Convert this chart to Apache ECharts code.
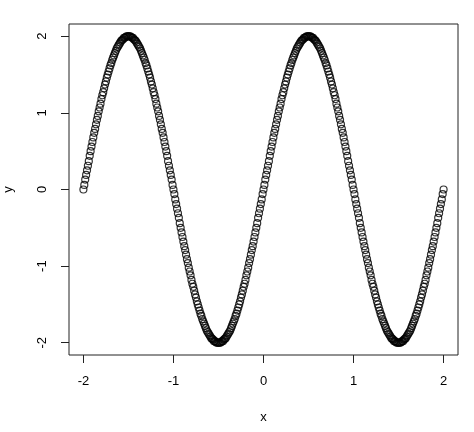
<!DOCTYPE html>
<html>
<head>
<meta charset="utf-8">
<script src="https://cdn.jsdelivr.net/npm/echarts@6/dist/echarts.min.js"></script>
<style>html,body{margin:0;padding:0;background:#fff;}#c{width:474px;height:432px;}</style>
</head>
<body>
<div id="c"></div>
<script>
var xTicks = [-2, -1, 0, 1, 2];
var yTicks = [-2, -1, 0, 1, 2];

var xValues = [
-2,-1.99,-1.98,-1.97,-1.96,-1.95,-1.94,-1.93,-1.92,-1.91,
-1.9,-1.89,-1.88,-1.87,-1.86,-1.85,-1.84,-1.83,-1.82,-1.81,
-1.8,-1.79,-1.78,-1.77,-1.76,-1.75,-1.74,-1.73,-1.72,-1.71,
-1.7,-1.69,-1.68,-1.67,-1.66,-1.65,-1.64,-1.63,-1.62,-1.61,
-1.6,-1.59,-1.58,-1.57,-1.56,-1.55,-1.54,-1.53,-1.52,-1.51,
-1.5,-1.49,-1.48,-1.47,-1.46,-1.45,-1.44,-1.43,-1.42,-1.41,
-1.4,-1.39,-1.38,-1.37,-1.36,-1.35,-1.34,-1.33,-1.32,-1.31,
-1.3,-1.29,-1.28,-1.27,-1.26,-1.25,-1.24,-1.23,-1.22,-1.21,
-1.2,-1.19,-1.18,-1.17,-1.16,-1.15,-1.14,-1.13,-1.12,-1.11,
-1.1,-1.09,-1.08,-1.07,-1.06,-1.05,-1.04,-1.03,-1.02,-1.01,
-1,-0.99,-0.98,-0.97,-0.96,-0.95,-0.94,-0.93,-0.92,-0.91,
-0.9,-0.89,-0.88,-0.87,-0.86,-0.85,-0.84,-0.83,-0.82,-0.81,
-0.8,-0.79,-0.78,-0.77,-0.76,-0.75,-0.74,-0.73,-0.72,-0.71,
-0.7,-0.69,-0.68,-0.67,-0.66,-0.65,-0.64,-0.63,-0.62,-0.61,
-0.6,-0.59,-0.58,-0.57,-0.56,-0.55,-0.54,-0.53,-0.52,-0.51,
-0.5,-0.49,-0.48,-0.47,-0.46,-0.45,-0.44,-0.43,-0.42,-0.41,
-0.4,-0.39,-0.38,-0.37,-0.36,-0.35,-0.34,-0.33,-0.32,-0.31,
-0.3,-0.29,-0.28,-0.27,-0.26,-0.25,-0.24,-0.23,-0.22,-0.21,
-0.2,-0.19,-0.18,-0.17,-0.16,-0.15,-0.14,-0.13,-0.12,-0.11,
-0.1,-0.09,-0.08,-0.07,-0.06,-0.05,-0.04,-0.03,-0.02,-0.01,
0,0.01,0.02,0.03,0.04,0.05,0.06,0.07,0.08,0.09,
0.1,0.11,0.12,0.13,0.14,0.15,0.16,0.17,0.18,0.19,
0.2,0.21,0.22,0.23,0.24,0.25,0.26,0.27,0.28,0.29,
0.3,0.31,0.32,0.33,0.34,0.35,0.36,0.37,0.38,0.39,
0.4,0.41,0.42,0.43,0.44,0.45,0.46,0.47,0.48,0.49,
0.5,0.51,0.52,0.53,0.54,0.55,0.56,0.57,0.58,0.59,
0.6,0.61,0.62,0.63,0.64,0.65,0.66,0.67,0.68,0.69,
0.7,0.71,0.72,0.73,0.74,0.75,0.76,0.77,0.78,0.79,
0.8,0.81,0.82,0.83,0.84,0.85,0.86,0.87,0.88,0.89,
0.9,0.91,0.92,0.93,0.94,0.95,0.96,0.97,0.98,0.99,
1,1.01,1.02,1.03,1.04,1.05,1.06,1.07,1.08,1.09,
1.1,1.11,1.12,1.13,1.14,1.15,1.16,1.17,1.18,1.19,
1.2,1.21,1.22,1.23,1.24,1.25,1.26,1.27,1.28,1.29,
1.3,1.31,1.32,1.33,1.34,1.35,1.36,1.37,1.38,1.39,
1.4,1.41,1.42,1.43,1.44,1.45,1.46,1.47,1.48,1.49,
1.5,1.51,1.52,1.53,1.54,1.55,1.56,1.57,1.58,1.59,
1.6,1.61,1.62,1.63,1.64,1.65,1.66,1.67,1.68,1.69,
1.7,1.71,1.72,1.73,1.74,1.75,1.76,1.77,1.78,1.79,
1.8,1.81,1.82,1.83,1.84,1.85,1.86,1.87,1.88,1.89,
1.9,1.91,1.92,1.93,1.94,1.95,1.96,1.97,1.98,1.99,
2
];

var yValues = [
0,0.06,0.13,0.19,0.25,0.31,0.37,0.44,0.5,0.56,0.62,0.68,0.74,0.79,0.85,0.91,0.96,1.02,1.07,1.12,1.18,1.23,1.27,1.32,1.37,1.41,1.46,1.5,1.54,1.58,1.62,1.65,1.69,1.72,1.75,1.78,1.81,1.84,1.86,1.88,1.9,1.92,1.94,1.95,1.96,1.98,1.98,1.99,2,2,
2,2,2,1.99,1.98,1.98,1.96,1.95,1.94,1.92,1.9,1.88,1.86,1.84,1.81,1.78,1.75,1.72,1.69,1.65,1.62,1.58,1.54,1.5,1.46,1.41,1.37,1.32,1.27,1.23,1.18,1.12,1.07,1.02,0.96,0.91,0.85,0.79,0.74,0.68,0.62,0.56,0.5,0.44,0.37,0.31,0.25,0.19,0.13,0.06,
0,-0.06,-0.13,-0.19,-0.25,-0.31,-0.37,-0.44,-0.5,-0.56,-0.62,-0.68,-0.74,-0.79,-0.85,-0.91,-0.96,-1.02,-1.07,-1.12,-1.18,-1.23,-1.27,-1.32,-1.37,-1.41,-1.46,-1.5,-1.54,-1.58,-1.62,-1.65,-1.69,-1.72,-1.75,-1.78,-1.81,-1.84,-1.86,-1.88,-1.9,-1.92,-1.94,-1.95,-1.96,-1.98,-1.98,-1.99,-2,-2,
-2,-2,-2,-1.99,-1.98,-1.98,-1.96,-1.95,-1.94,-1.92,-1.9,-1.88,-1.86,-1.84,-1.81,-1.78,-1.75,-1.72,-1.69,-1.65,-1.62,-1.58,-1.54,-1.5,-1.46,-1.41,-1.37,-1.32,-1.27,-1.23,-1.18,-1.12,-1.07,-1.02,-0.96,-0.91,-0.85,-0.79,-0.74,-0.68,-0.62,-0.56,-0.5,-0.44,-0.37,-0.31,-0.25,-0.19,-0.13,-0.06,
0,0.06,0.13,0.19,0.25,0.31,0.37,0.44,0.5,0.56,0.62,0.68,0.74,0.79,0.85,0.91,0.96,1.02,1.07,1.12,1.18,1.23,1.27,1.32,1.37,1.41,1.46,1.5,1.54,1.58,1.62,1.65,1.69,1.72,1.75,1.78,1.81,1.84,1.86,1.88,1.9,1.92,1.94,1.95,1.96,1.98,1.98,1.99,2,2,
2,2,2,1.99,1.98,1.98,1.96,1.95,1.94,1.92,1.9,1.88,1.86,1.84,1.81,1.78,1.75,1.72,1.69,1.65,1.62,1.58,1.54,1.5,1.46,1.41,1.37,1.32,1.27,1.23,1.18,1.12,1.07,1.02,0.96,0.91,0.85,0.79,0.74,0.68,0.62,0.56,0.5,0.44,0.37,0.31,0.25,0.19,0.13,0.06,
0,-0.06,-0.13,-0.19,-0.25,-0.31,-0.37,-0.44,-0.5,-0.56,-0.62,-0.68,-0.74,-0.79,-0.85,-0.91,-0.96,-1.02,-1.07,-1.12,-1.18,-1.23,-1.27,-1.32,-1.37,-1.41,-1.46,-1.5,-1.54,-1.58,-1.62,-1.65,-1.69,-1.72,-1.75,-1.78,-1.81,-1.84,-1.86,-1.88,-1.9,-1.92,-1.94,-1.95,-1.96,-1.98,-1.98,-1.99,-2,-2,
-2,-2,-2,-1.99,-1.98,-1.98,-1.96,-1.95,-1.94,-1.92,-1.9,-1.88,-1.86,-1.84,-1.81,-1.78,-1.75,-1.72,-1.69,-1.65,-1.62,-1.58,-1.54,-1.5,-1.46,-1.41,-1.37,-1.32,-1.27,-1.23,-1.18,-1.12,-1.07,-1.02,-0.96,-0.91,-0.85,-0.79,-0.74,-0.68,-0.62,-0.56,-0.5,-0.44,-0.37,-0.31,-0.25,-0.19,-0.13,-0.06,
0
];

var points = xValues.map(function (x, i) { return [x, yValues[i]]; });

var chart = echarts.init(document.getElementById('c'));
var font = 'Liberation Sans, Arial, Helvetica, sans-serif';
chart.setOption({
  animation: false,
  backgroundColor: '#fff',
  grid: {
    left: 69, right: 16, top: 24, bottom: 77,
    outerBoundsMode: 'none', containLabel: false,
    show: true, borderColor: '#222', borderWidth: 1, backgroundColor: 'transparent'
  },
  xAxis: {
    type: 'value', min: -2.16, max: 2.16,
    name: 'x', nameLocation: 'middle', nameGap: 56,
    nameTextStyle: { color: '#000', fontSize: 13, fontFamily: font },
    axisLine: { show: false, onZero: false },
    axisTick: { show: true, customValues: xTicks, length: 8, lineStyle: { color: '#222', width: 1 } },
    axisLabel: { customValues: xTicks, color: '#000', fontSize: 13, fontFamily: font, margin: 20 },
    splitLine: { show: false }
  },
  yAxis: {
    type: 'value', min: -2.16, max: 2.16,
    name: 'y', nameLocation: 'middle', nameGap: 54,
    nameTextStyle: { color: '#000', fontSize: 13, fontFamily: font },
    axisLine: { show: false, onZero: false },
    axisTick: { show: true, customValues: yTicks, length: 8, lineStyle: { color: '#222', width: 1 } },
    axisLabel: { customValues: yTicks, color: '#000', fontSize: 13, fontFamily: font, margin: 20, rotate: 90 },
    splitLine: { show: false }
  },
  series: [{
    type: 'scatter',
    data: points,
    symbol: 'circle',
    symbolSize: 7,
    itemStyle: { color: 'rgba(0,0,0,0)', borderColor: '#000', borderWidth: 1.2 },
    emphasis: { disabled: true }
  }]
});
</script>
</body>
</html>
